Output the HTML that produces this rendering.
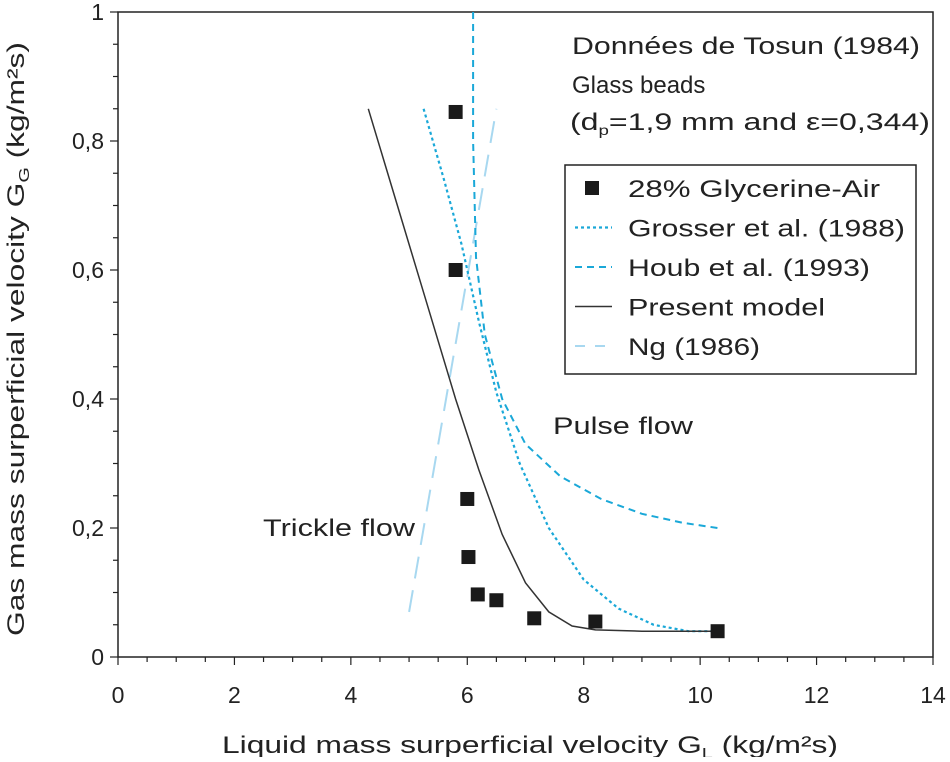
<!DOCTYPE html>
<html><head><meta charset="utf-8"><style>
body{margin:0;background:#fff}
svg text{font-family:"Liberation Sans",sans-serif;fill:#222}
</style></head><body>
<svg id="c" width="950" height="757" xmlns="http://www.w3.org/2000/svg"></svg>
<script>
const xTicks=[0,2,4,6,8,10,12,14];
const yTicks=[0,0.2,0.4,0.6,0.8,1];
const yTickLabels=["0","0,2","0,4","0,6","0,8","1"];
const expX=[5.8,5.8,6.0,6.02,6.18,6.5,7.15,8.2,10.3];
const expY=[0.845,0.6,0.245,0.155,0.097,0.088,0.06,0.055,0.04];
const modelX=[4.3,4.8,5.3,5.8,6.2,6.6,7.0,7.4,7.8,8.2,9,10.3];
const modelY=[0.85,0.7,0.55,0.4,0.29,0.19,0.115,0.07,0.048,0.042,0.04,0.04];
const grosserX=[5.25,5.6,5.9,6.2,6.5,6.9,7.4,8.0,8.6,9.2,9.8,10.3];
const grosserY=[0.85,0.74,0.64,0.52,0.41,0.3,0.2,0.12,0.075,0.05,0.04,0.04];
const houbX=[6.1,6.1,6.15,6.3,6.6,7.0,7.6,8.3,9.0,9.7,10.3];
const houbY=[1.0,0.8,0.62,0.5,0.4,0.33,0.28,0.245,0.222,0.208,0.2];
const ngX=[5.0,6.5];
const ngY=[0.07,0.85];
const L=118,R=933,T=12,B=657;
const sx=v=>L+(v-0)/14*(R-L), sy=v=>B-v*(B-T);
const svg=document.getElementById('c');
const NS='http://www.w3.org/2000/svg';
function mk(t,a,p){const e=document.createElementNS(NS,t);for(const k in a)e.setAttribute(k,a[k]);(p||svg).appendChild(e);return e;}
let e=mk('rect',{x:L,y:T,width:R-L,height:B-T,fill:'none',stroke:'#222','stroke-width':1.5});


for(let v=0;v<=14.001;v+=0.5){const maj=Math.abs(v/2-Math.round(v/2))<1e-6;mk('line',{x1:sx(v),x2:sx(v),y1:B,y2:B+(maj?8:5),stroke:'#222','stroke-width':1.2});}
for(let v=0;v<=1.0001;v+=0.05){const maj=Math.abs(v/0.2-Math.round(v/0.2))<1e-6;mk('line',{x1:L,x2:L-(maj?8:5),y1:sy(v),y2:sy(v),stroke:'#222','stroke-width':1.2});}
xTicks.forEach(v=>{const t=mk('text',{x:sx(v),y:B+46,'text-anchor':'middle','font-size':23});t.textContent=v;

});
yTicks.forEach((v,i)=>{const t=mk('text',{x:L-14,y:sy(v)+8,'text-anchor':'end','font-size':23});t.textContent=yTickLabels[i];

});
let xt=mk('text',{x:222,y:753,'font-size':24,textLength:616,lengthAdjust:'spacingAndGlyphs'});
xt.innerHTML='Liquid mass surperficial velocity G<tspan font-size="15" dy="5">L</tspan><tspan dy="-5"> (kg/m²s)</tspan>';


let yt=mk('text',{transform:'translate(24,636) rotate(-90)','font-size':24,textLength:594,lengthAdjust:'spacingAndGlyphs'});
yt.innerHTML='Gas mass surperficial velocity G<tspan font-size="15" dy="5">G</tspan><tspan dy="-5"> (kg/m²s)</tspan>';


function line(xs,ys,st,name){const d=xs.map((x,i)=>(i?'L':'M')+sx(x).toFixed(1)+','+sy(ys[i]).toFixed(1)).join('');
const p=mk('path',Object.assign({d:d,fill:'none'},st));

}
line(ngX,ngY,{stroke:'#a8d8f0','stroke-width':2,'stroke-dasharray':'22 12'},'ng-1986-line');
line(houbX,houbY,{stroke:'#1aa8d8','stroke-width':2,'stroke-dasharray':'7 5'},'houb-1993-line');
line(grosserX,grosserY,{stroke:'#1aa8d8','stroke-width':2.2,'stroke-dasharray':'3 3'},'grosser-1988-line');
line(modelX,modelY,{stroke:'#333','stroke-width':1.5},'present-model-line');
expX.forEach((x,i)=>{const r=mk('rect',{x:sx(x)-7,y:sy(expY[i])-7,width:14,height:14,fill:'#1a1a1a'});

});
let a1=mk('text',{x:572,y:54,'font-size':24,textLength:348,lengthAdjust:'spacingAndGlyphs'});a1.textContent='Données de Tosun (1984)';


let a2=mk('text',{x:572,y:93,'font-size':24});a2.textContent='Glass beads';


let a3=mk('text',{x:570,y:130,'font-size':24,textLength:360,lengthAdjust:'spacingAndGlyphs'});a3.innerHTML='(d<tspan font-size="14" dy="5">p</tspan><tspan dy="-5">=1,9 mm and ε=0,344)</tspan>';


let lg=mk('g',{});


mk('rect',{x:565,y:165,width:351,height:209,fill:'#fff',stroke:'#222','stroke-width':1.5},lg);
const legNames=['28% Glycerine-Air','Grosser et al. (1988)','Houb et al. (1993)','Present model','Ng (1986)'];
const legW=[252,277,242,197,132];
const legStyles=[null,{stroke:'#1aa8d8','stroke-width':2.2,'stroke-dasharray':'3 3'},{stroke:'#1aa8d8','stroke-width':2,'stroke-dasharray':'7 5'},{stroke:'#333','stroke-width':1.5},{stroke:'#a8d8f0','stroke-width':2,'stroke-dasharray':'10 10'}];
legNames.forEach((n,i)=>{const y=188+i*39.5;
if(i===0)mk('rect',{x:585,y:y-7,width:14,height:14,fill:'#1a1a1a'},lg);
else mk('line',Object.assign({x1:575,x2:612,y1:y,y2:y},legStyles[i]),lg);
const t=mk('text',{x:628,y:y+9,'font-size':24,textLength:legW[i],lengthAdjust:'spacingAndGlyphs'},lg);t.textContent=n;

});
[['Pulse flow',553,434,140],['Trickle flow',263,536,152]].forEach(([s,x,y,w])=>{const t=mk('text',{x:x,y:y,'font-size':24,textLength:w,lengthAdjust:'spacingAndGlyphs'});t.textContent=s;

});
</script>
</body></html>
